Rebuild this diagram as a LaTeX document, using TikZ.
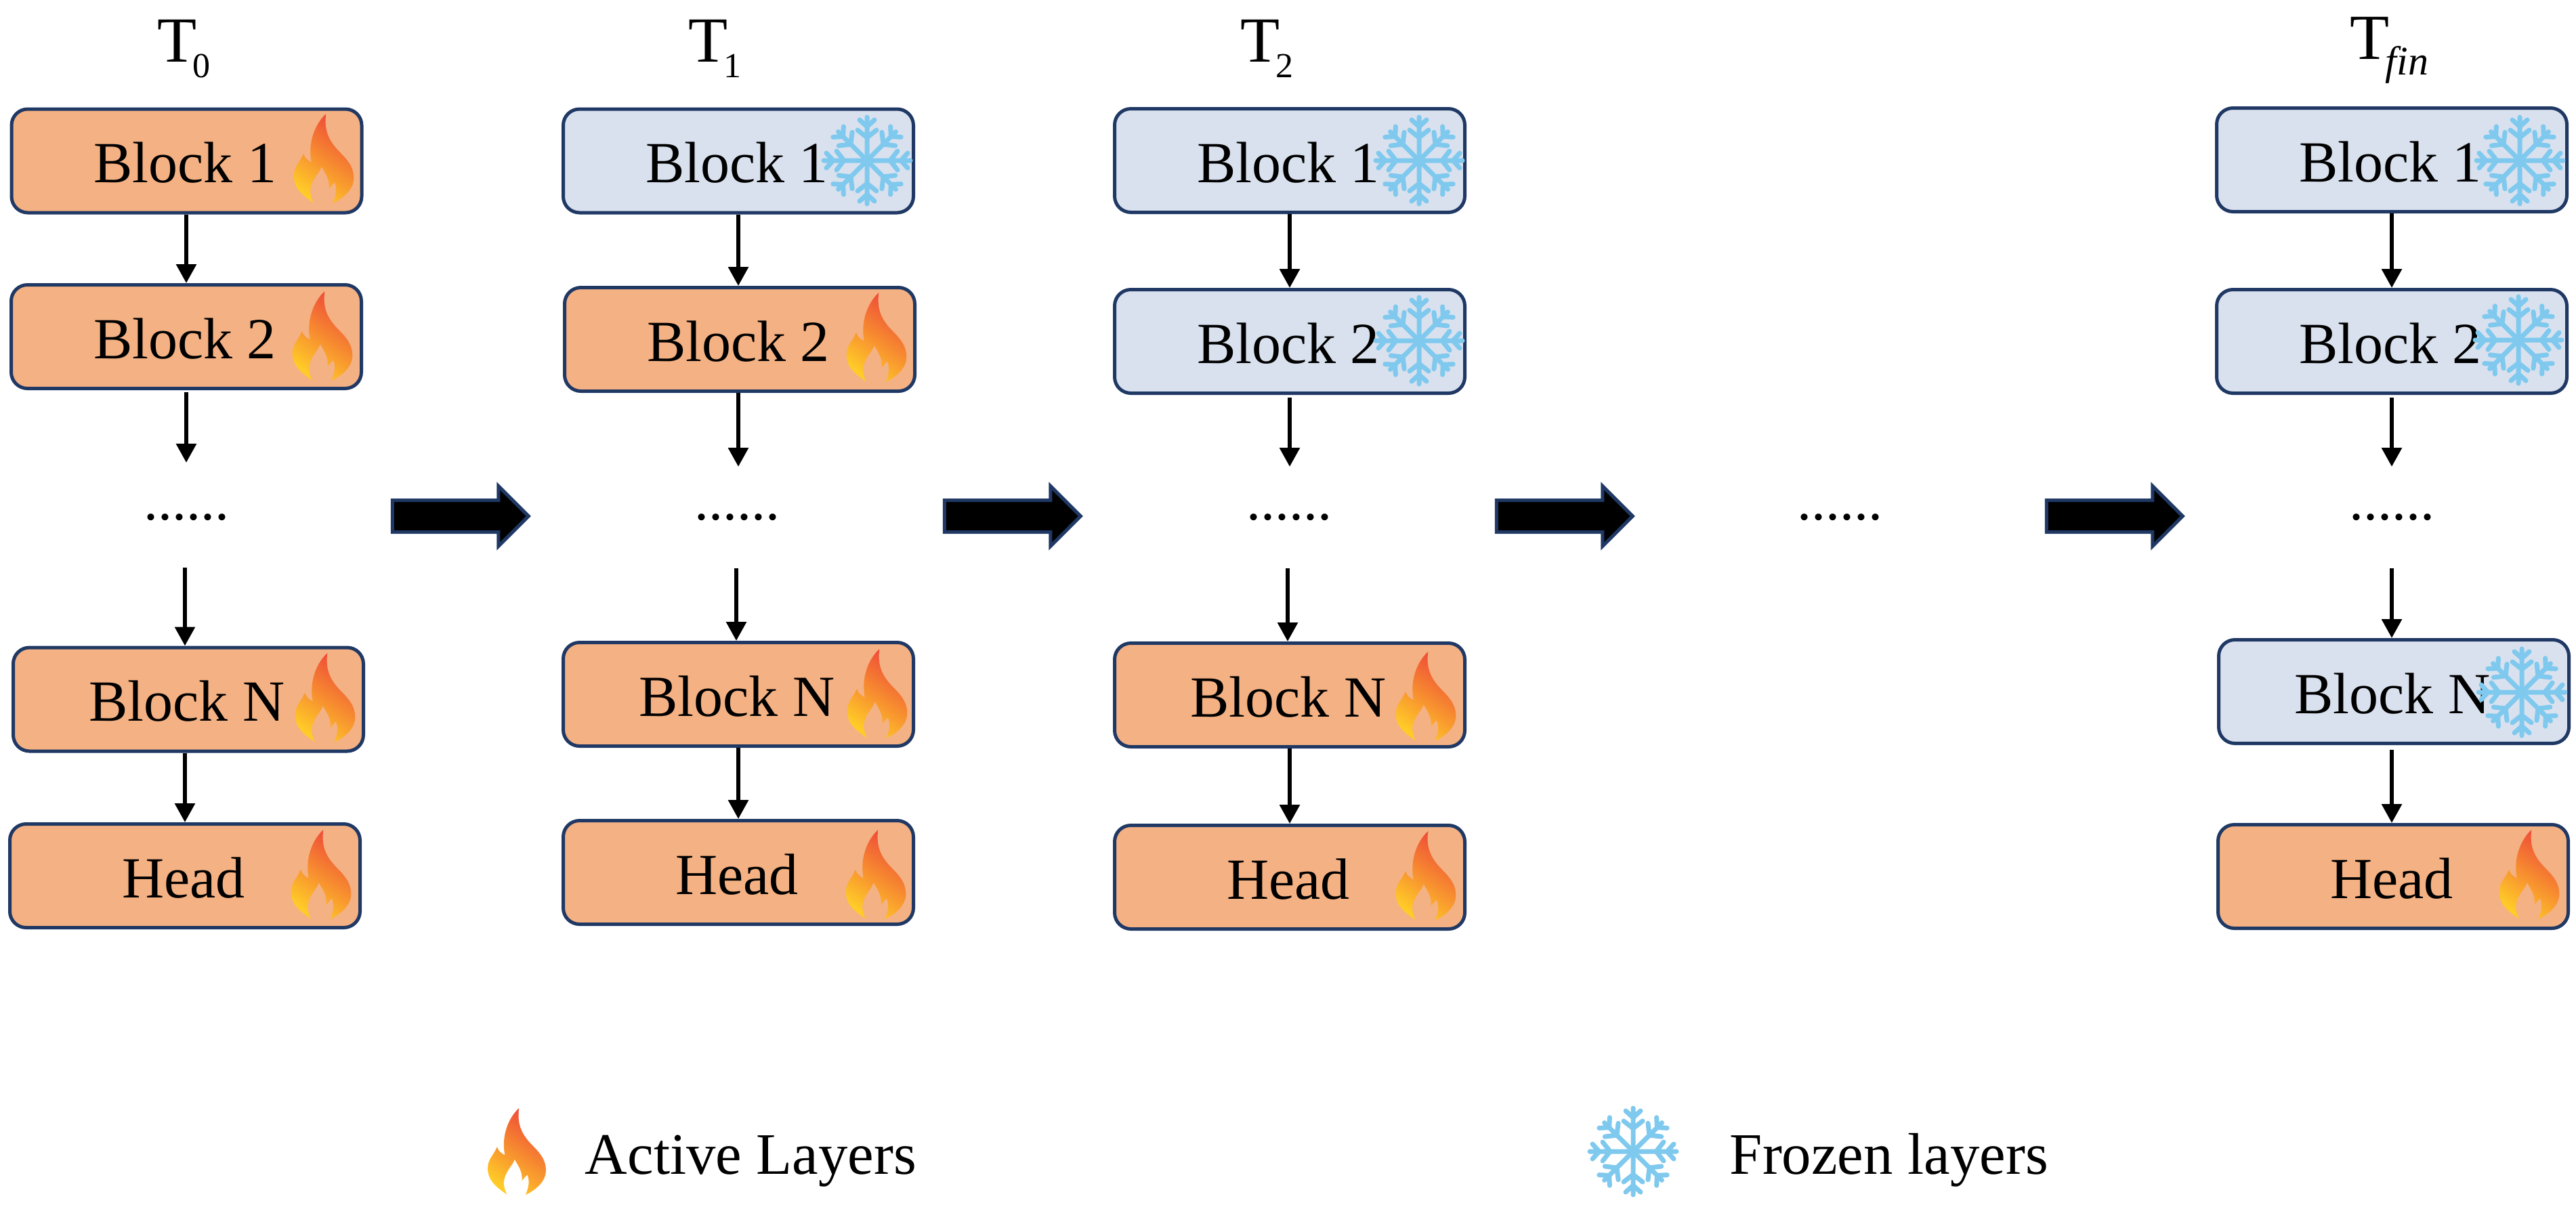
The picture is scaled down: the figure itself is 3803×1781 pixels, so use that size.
\documentclass[tikz,border=0pt]{standalone}
\usepackage{fontspec}
\setmainfont{Liberation Serif}
\usetikzlibrary{arrows.meta,shapes.arrows,calc}
\definecolor{navy}{HTML}{1F3864}
\definecolor{activefill}{HTML}{F4B183}
\definecolor{frozenfill}{HTML}{D9E1EE}
\definecolor{flameY}{HTML}{FFCB28}
\definecolor{flameM}{HTML}{F98A2E}
\definecolor{flameR}{HTML}{EE4A38}
\definecolor{ice}{HTML}{7FC9EE}
\tikzset{
  blockbox/.style={draw=navy,line width=1.25pt,rounded corners=6pt,minimum width=129.25pt,minimum height=38.25pt,
    inner sep=0pt,text height=16pt,text depth=0pt,font=\fontsize{21.5}{25}\selectfont,
    execute at begin node={\kern-1pt}},
  activeblock/.style={blockbox,fill=activefill},
  frozenblock/.style={blockbox,fill=frozenfill},
  conn/.style={-{Triangle[width=7.25pt,length=7pt]},line width=1.5pt,black},
  bigarrow/.style={single arrow,draw=navy,fill=black,line width=1.25pt,minimum height=50.25pt,minimum width=21pt,
    single arrow head extend=5.25pt,single arrow tip angle=90,inner xsep=0pt,inner ysep=5.25pt},
  blockdots/.style={anchor=base,inner sep=0pt,font=\fontsize{21}{25}\selectfont},
  stagetitle/.style={anchor=base west,inner sep=0pt,font=\fontsize{23.75}{28}\selectfont},
  legendtext/.style={anchor=base west,inner sep=0pt,font=\fontsize{21.7}{26}\selectfont},
  pics/flame/.style={code={
    \shade[top color=flameR,middle color=flameM,bottom color=flameY,shading angle=-35]
      (-15,65.5) .. controls (-35,52) and (-44.3,42) .. (-44.3,25.5)
      .. controls (-44.3,12) and (-35,5) .. (-30,-7)
      .. controls (-28,0) and (-23,3) .. (-18.3,5.5)
      .. controls (-24,-25) and (-12,-52) .. (3.3,-66)
      .. controls (0,-40) and (8,-25) .. (25,-8)
      .. controls (38,5) and (44.3,15) .. (44.3,29)
      .. controls (44.3,45) and (30,58) .. (13.3,66)
      .. controls (18,55) and (20,45) .. (16,35.5)
      .. controls (13,38) and (10,42) .. (7.7,44.5)
      .. controls (9,30) and (2,22) .. (-3.3,12)
      .. controls (-6,22) and (-19,30) .. (-20,49)
      .. controls (-19,55) and (-18,60) .. (-15,65.5) -- cycle;
  }},
  pics/snow/.style={code={
    \foreach \a/\l in {0/64,45/60,90/64,135/60,180/64,225/60,270/64,315/60}{
      \draw[ice,line width=1.75pt,line cap=round,rotate=\a]
        (0,0) -- (0,-\l)
        (-11,-60) -- (0,-50) -- (11,-60)
        (-14,-45) -- (0,-34) -- (14,-45);
    }
  }},
}
\newcommand{\tsub}[1]{\kern-1.5pt\raisebox{-5.75pt}{\fontsize{13}{15}\selectfont #1}}
\newcommand{\tfinsub}[1]{\raisebox{-5.75pt}{\kern-1.5pt\fontsize{15}{17}\selectfont\itshape #1}}
\begin{document}
\begin{tikzpicture}[x=0.25pt,y=-0.25pt]
\useasboundingbox (0,0) rectangle (3803,1781);

% titles
\node[stagetitle] (t0) at (232,91) {T\tsub{0}};
\node[stagetitle] (t1) at (1016,91) {T\tsub{1}};
\node[stagetitle] (t2) at (1831,91) {T\tsub{2}};
\node[stagetitle] (tf) at (3469,87) {T\tfinsub{fin}};

% column 0
\node[activeblock] (a1) at (275.5,237.5) {Block 1};
\node[activeblock] (a2) at (275,497) {Block 2};
\node[blockdots]   (ad) at (275,767) {......};
\node[activeblock] (an) at (278,1032.5) {Block N};
\node[activeblock] (ah) at (273,1293) {Head};
% column 1
\node[frozenblock] (b1) at (1090,237.5) {Block 1};
\node[activeblock] (b2) at (1092,501) {Block 2};
\node[blockdots]   (bd) at (1088,767) {......};
\node[activeblock] (bn) at (1090,1025) {Block N};
\node[activeblock] (bh) at (1090,1288) {Head};
% column 2
\node[frozenblock] (c1) at (1904,237) {Block 1};
\node[frozenblock] (c2) at (1904,504) {Block 2};
\node[blockdots]   (cd) at (1903,767) {......};
\node[activeblock] (cn) at (1904,1026) {Block N};
\node[activeblock] (ch) at (1904,1295) {Head};
% middle dots
\node[blockdots]   (md) at (2716,767) {......};
% column 3
\node[frozenblock] (d1) at (3531,236) {Block 1};
\node[frozenblock] (d2) at (3531,504) {Block 2};
\node[blockdots]   (dd) at (3531,767) {......};
\node[frozenblock] (dn) at (3534,1021) {Block N};
\node[activeblock] (dh) at (3533,1294) {Head};

% free ends of the connectors round the dots
\coordinate (ae1) at (275,683);  \coordinate (ae2) at (273,838);
\coordinate (be1) at (1090,689); \coordinate (be2) at (1087,839);
\coordinate (ce1) at (1904,689); \coordinate (ce2) at (1901,839);
\coordinate (de1) at (3531,689); \coordinate (de2) at (3531,839);

% connectors
\draw[conn] (ae1 |- a1.south) -- (ae1 |- a2.north);
\draw[conn,shorten <=0.75pt] (ae1 |- a2.south) -- (ae1);
\draw[conn] (ae2) -- (ae2 |- an.north);
\draw[conn] (ae2 |- an.south) -- (ae2 |- ah.north);

\draw[conn] (be1 |- b1.south) -- (be1 |- b2.north);
\draw[conn] (be1 |- b2.south) -- (be1);
\draw[conn] (be2) -- (be2 |- bn.north);
\draw[conn] (be1 |- bn.south) -- (be1 |- bh.north);

\draw[conn] (ce1 |- c1.south) -- (ce1 |- c2.north);
\draw[conn,shorten <=1pt] (ce1 |- c2.south) -- (ce1);
\draw[conn] (ce2) -- (ce2 |- cn.north);
\draw[conn] (ce1 |- cn.south) -- (ce1 |- ch.north);

\draw[conn] (de1 |- d1.south) -- (de1 |- d2.north);
\draw[conn,shorten <=1pt] (de1 |- d2.south) -- (de1);
\draw[conn] (de2) -- (de2 |- dn.north);
\draw[conn,shorten <=1.75pt] (de2 |- dn.south) -- (de2 |- dh.north);

% big arrows between stages
\node[bigarrow] (s1) at (668,762) {};
\node[bigarrow] (s2) at (1483,762) {};
\node[bigarrow] (s3) at (2298,762) {};
\node[bigarrow] (s4) at (3110,762) {};

% icons
\pic at (478,234) {flame};
\pic at (476,496) {flame};
\pic at (480,1030) {flame};
\pic at (474,1291) {flame};
\pic at (1294,498) {flame};
\pic at (1295,1024) {flame};
\pic at (1293,1291) {flame};
\pic at (2105,1028) {flame};
\pic at (2105,1293) {flame};
\pic at (3734,1291) {flame};
\pic at (1280,237) {snow};
\pic at (2095,237) {snow};
\pic at (2095,503) {snow};
\pic at (3720,237) {snow};
\pic at (3718,502) {snow};
\pic at (3723,1022) {snow};

% legend
\pic[scale=0.97] at (763,1700) {flame};
\node[legendtext] (la) at (863,1733) {Active Layers};
\pic at (2411,1700) {snow};
\node[legendtext] (lf) at (2553,1733) {Frozen layers};
\end{tikzpicture}
\end{document}
